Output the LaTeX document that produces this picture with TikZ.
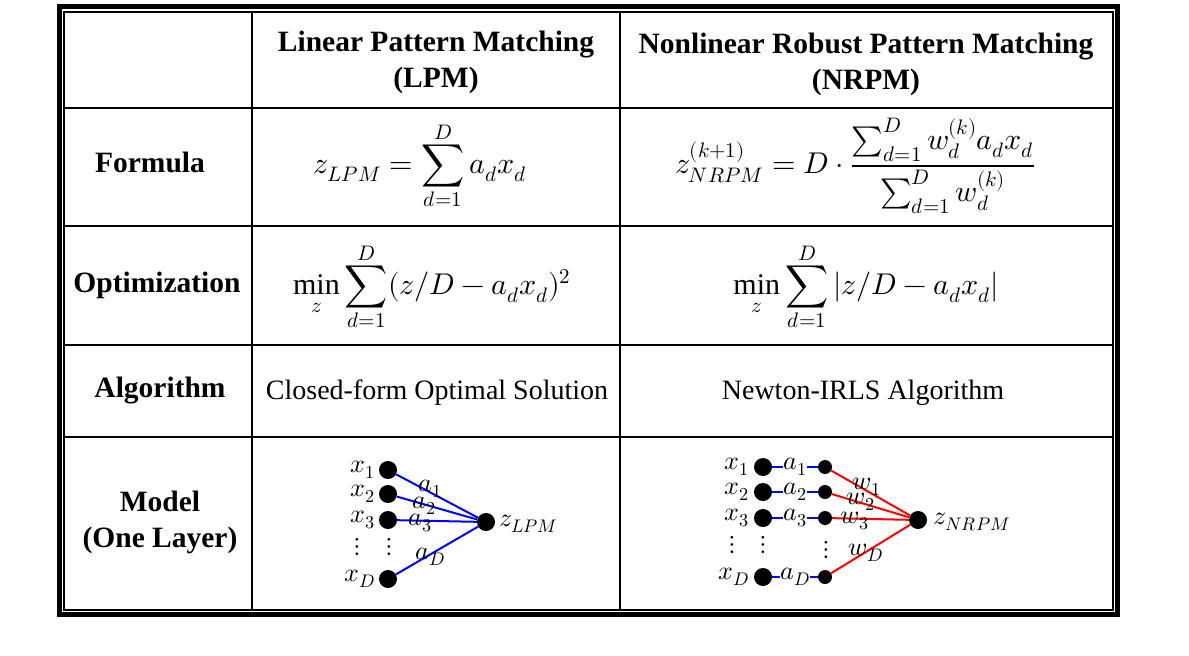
\documentclass[tikz,border=0pt]{standalone}
\usepackage{amsmath}
\usepackage{unicode-math}
\setmainfont{Liberation Serif}
\setmathfont{Latin Modern Math}
\begin{document}
\begin{tikzpicture}[x=1pt,y=-1pt,
  cell/.style={font=\fontsize{28}{32}\selectfont,align=center},
  hdr/.style={font=\fontsize{29.5}{36}\selectfont\bfseries,align=center},
  mth/.style={font=\fontsize{30}{34}\selectfont},
  dot/.style={circle,fill=black,inner sep=0pt,minimum size=18pt},
  sdot/.style={circle,fill=black,inner sep=0pt,minimum size=14pt},
  lbl/.style={font=\fontsize{26}{28}\selectfont,inner sep=1pt,text=black},
  bl/.style={blue,line width=2pt},
  rl/.style={red,line width=2pt}]
\useasboundingbox (0,0) rectangle (1189,656);
\draw[line width=5pt] (59.5,6.5) rectangle (1117.5,614.5);
\draw[line width=1.3pt] (64,12) rectangle (1113,610);
\foreach \x in {252,620} \draw[line width=1.3pt] (\x,12) -- (\x,610);
\foreach \y in {108,226,345,437} \draw[line width=1.3pt] (64,\y) -- (1113,\y);
% headers
\node[hdr] (h1) at (436,62) {Linear Pattern Matching\\(LPM)};
\node[hdr] (h2) at (866,64) {Nonlinear Robust Pattern Matching\\(NRPM)};
\node[hdr] (r1) at (150,162) {Formula};
\node[hdr] (r2) at (157,285) {Optimization};
\node[hdr] (r3) at (160,391) {Algorithm};
\node[hdr] (r4) at (160,522) {Model\\(One Layer)};
% formulas
\node[mth] (f1) at (420,166) {$\displaystyle z_{LPM}=\sum_{d=1}^{D} a_d x_d$};
\node[mth] (f2) at (855,166) {$\displaystyle z^{(k+1)}_{NRPM}=D\cdot\frac{\sum_{d=1}^{D} w_d^{(k)} a_d x_d}{\sum_{d=1}^{D} w_d^{(k)}}$};
\node[mth] (o1) at (432,287) {$\displaystyle \min_z \sum_{d=1}^{D} (z/D-a_d x_d)^2$};
\node[mth] (o2) at (866,287) {$\displaystyle \min_z \sum_{d=1}^{D} |z/D-a_d x_d|$};
\node[cell] (a1) at (437,393) {Closed-form Optimal Solution};
\node[cell] (a2) at (863,393) {Newton-IRLS Algorithm};
% LPM model
\foreach \i/\y in {1/470,2/494,3/520,D/579}{
  \node[dot] (lx\i) at (388,\y) {};
  \node[lbl,anchor=east] at (376,\y) {$x_{\i}$};
}
\node[dot] (lz) at (486,522) {};
\node[lbl,anchor=west] at (498,524) {$z_{LPM}$};
\node[lbl] at (357,547) {$\vdots$};
\node[lbl] at (389,547) {$\vdots$};
\foreach \i in {1,2,3,D} \draw[bl] (lx\i) -- (lz);
\node[lbl] at (430,489) {$a_1$};
\node[lbl] at (424,506) {$a_2$};
\node[lbl] at (420,523) {$a_3$};
\node[lbl] at (430,557) {$a_D$};
% NRPM model
\foreach \i/\y in {1/467,2/492,3/518,D/577}{
  \node[dot] (nx\i) at (763,\y) {};
  \node[sdot] (ny\i) at (825,\y) {};
  \node[lbl,anchor=east] at (750,\y) {$x_{\i}$};
  \draw[bl] (nx\i) -- node[lbl,fill=white,inner sep=0pt] {$a_{\i}$} (ny\i);
}
\node[dot] (nz) at (918,520) {};
\node[lbl,anchor=west] at (932,522) {$z_{NRPM}$};
\node[lbl] at (732,545) {$\vdots$};
\node[lbl] at (763,545) {$\vdots$};
\node[lbl] at (826,550) {$\vdots$};
\foreach \i in {1,2,3,D} \draw[rl] (ny\i) -- (nz);
\node[lbl] at (867,487) {$w_1$};
\node[lbl] at (861,502) {$w_2$};
\node[lbl] at (855,521) {$w_3$};
\node[lbl] at (866,553) {$w_D$};
\end{tikzpicture}
\end{document}
